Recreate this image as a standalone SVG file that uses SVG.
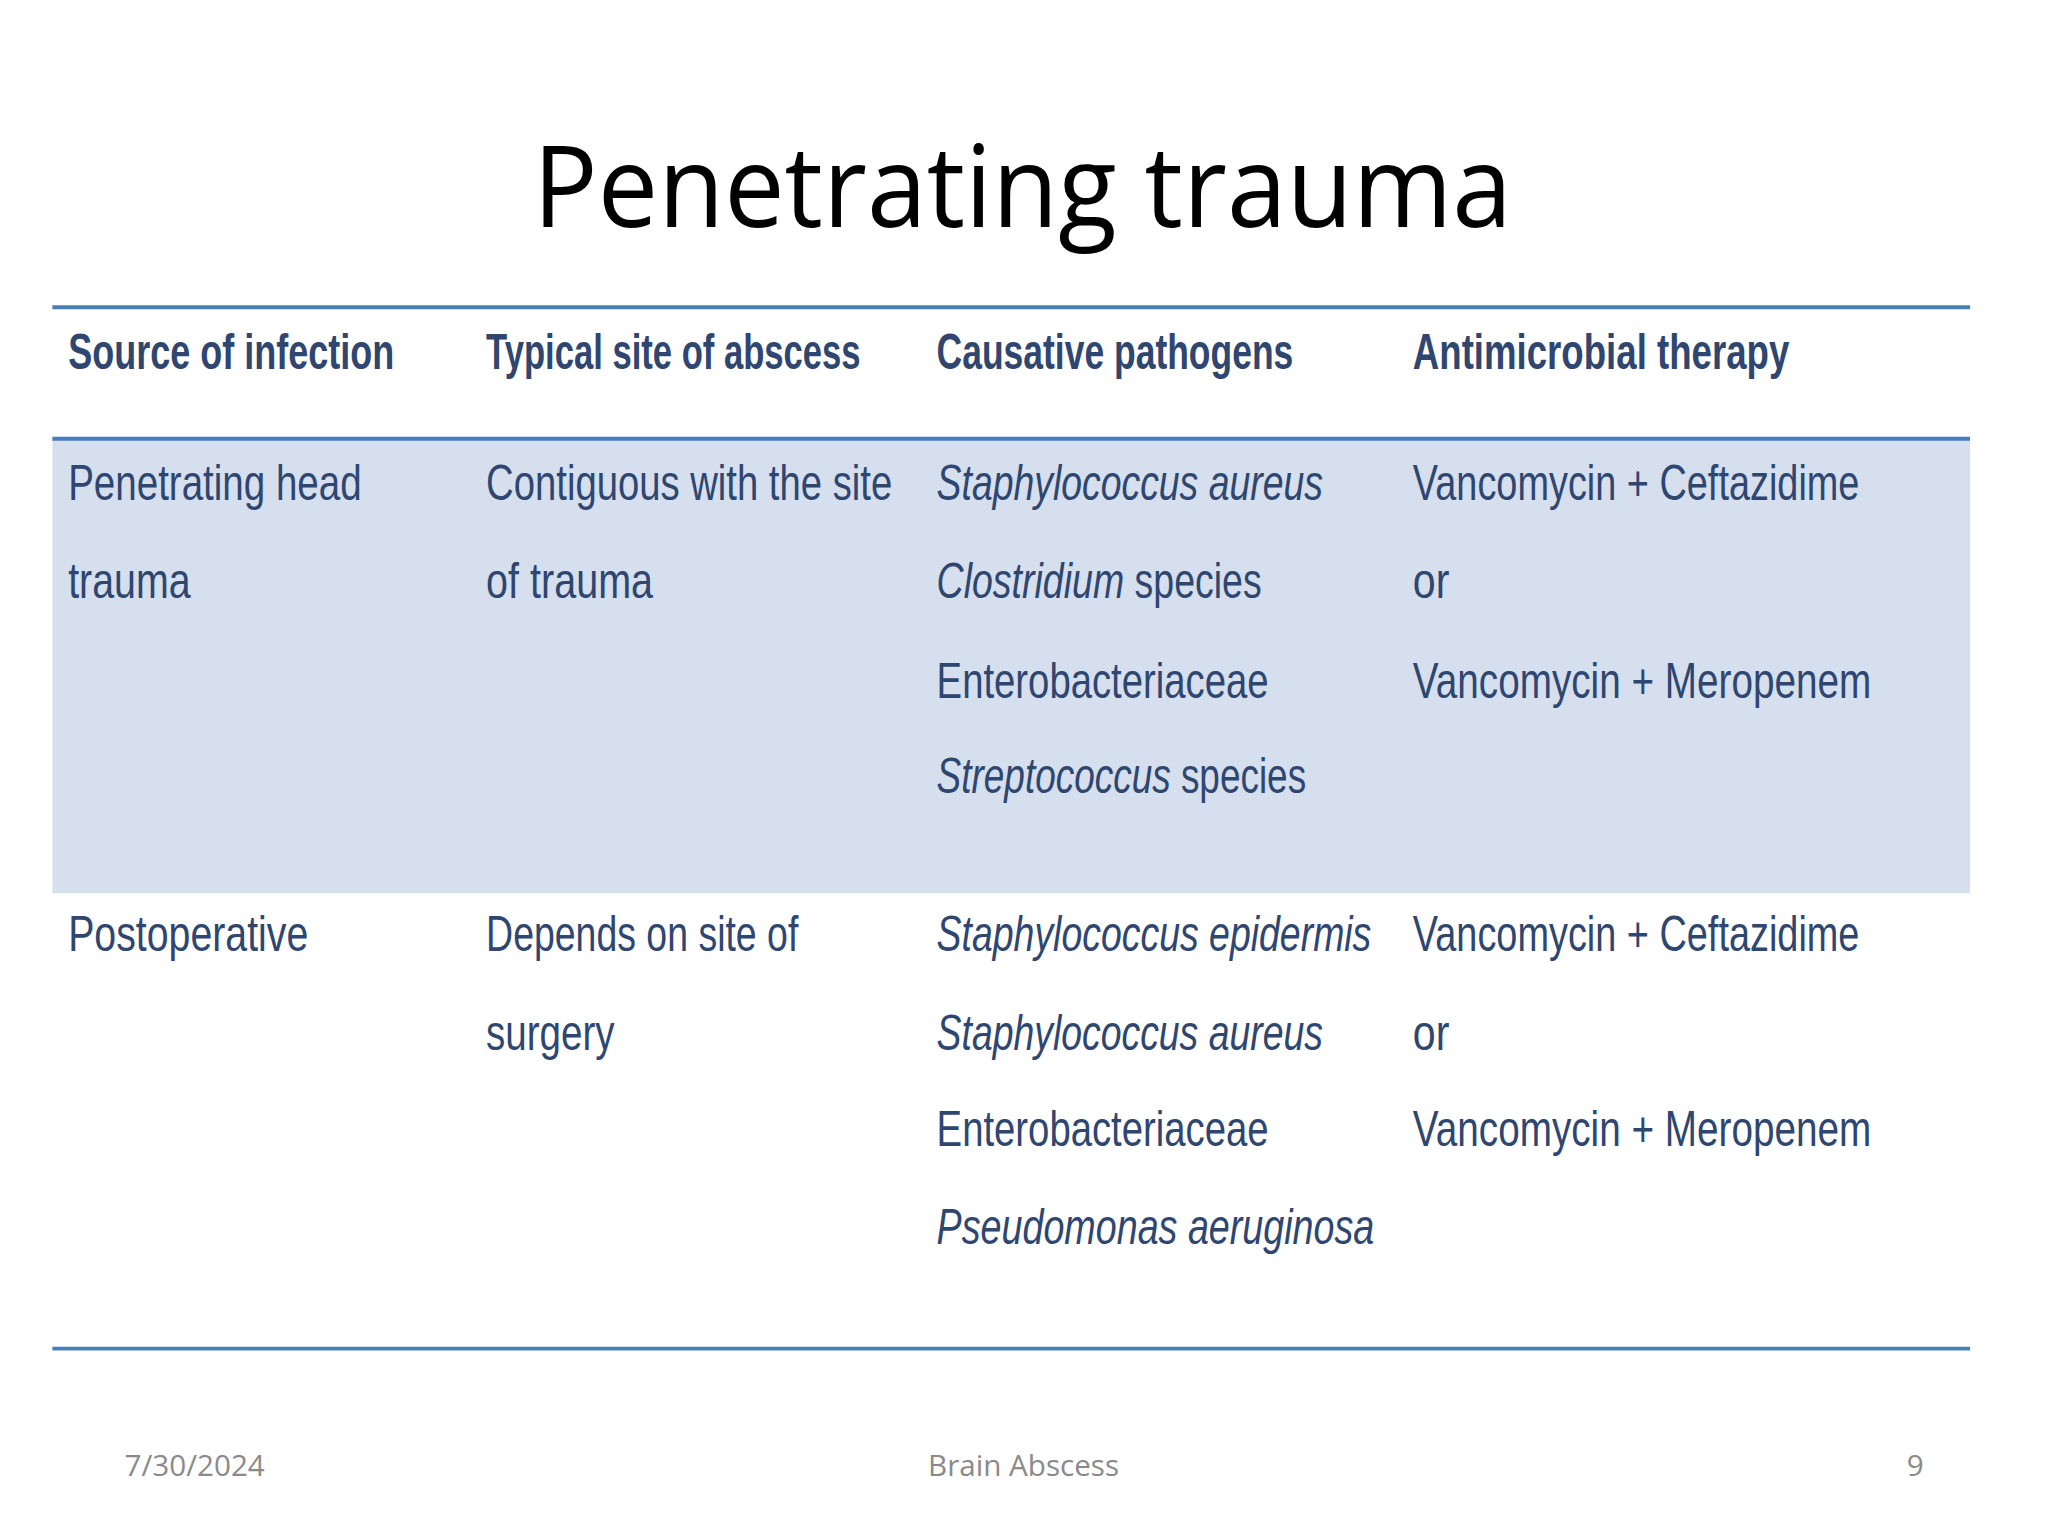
<svg xmlns="http://www.w3.org/2000/svg" width="2048" height="1536" viewBox="0 0 2048 1536">
<style>
.t{font-family:"Open Sans","Liberation Sans",sans-serif;fill:#000}
.c{font-family:"Liberation Sans",sans-serif;font-size:50px;fill:#2f4670}
.h{font-weight:bold}
.i{font-style:italic}
.f{font-family:"Open Sans","Liberation Sans",sans-serif;font-size:30px;fill:#8a8a8a}
.ln{stroke:#4a7ebb;stroke-width:4}
</style>
<rect width="2048" height="1536" fill="#fff"/>
<g transform="scale(0.988)">
<text class="t" x="1035" y="230" font-size="114" text-anchor="middle" textLength="991" lengthAdjust="spacingAndGlyphs">Penetrating trauma</text>
<g id="table">
<rect x="53" y="444" width="1941" height="460" fill="#d6dfee"/>
<line class="ln" x1="53" y1="311" x2="1994" y2="311"/>
<line class="ln" x1="53" y1="444" x2="1994" y2="444"/>
<line class="ln" x1="53" y1="1365" x2="1994" y2="1365"/>
<g id="header" class="c h">
<text x="69" y="373" textLength="330" lengthAdjust="spacingAndGlyphs">Source of infection</text>
<text x="492" y="373" textLength="379" lengthAdjust="spacingAndGlyphs">Typical site of abscess</text>
<text x="948" y="373" textLength="361" lengthAdjust="spacingAndGlyphs">Causative pathogens</text>
<text x="1430" y="373" textLength="381" lengthAdjust="spacingAndGlyphs">Antimicrobial therapy</text>
</g>
<g id="row1" class="c">
<text x="69" y="506" textLength="297" lengthAdjust="spacingAndGlyphs">Penetrating head</text>
<text x="69" y="605" textLength="124" lengthAdjust="spacingAndGlyphs">trauma</text>
<text x="492" y="506" textLength="411" lengthAdjust="spacingAndGlyphs">Contiguous with the site</text>
<text x="492" y="605" textLength="169" lengthAdjust="spacingAndGlyphs">of trauma</text>
<text x="948" y="506" class="i" textLength="391" lengthAdjust="spacingAndGlyphs">Staphylococcus aureus</text>
<text x="948" y="605" textLength="329" lengthAdjust="spacingAndGlyphs"><tspan class="i">Clostridium</tspan> species</text>
<text x="948" y="706" textLength="336" lengthAdjust="spacingAndGlyphs">Enterobacteriaceae</text>
<text x="948" y="803" textLength="374" lengthAdjust="spacingAndGlyphs"><tspan class="i">Streptococcus</tspan> species</text>
<text x="1430" y="506" textLength="452" lengthAdjust="spacingAndGlyphs">Vancomycin + Ceftazidime</text>
<text x="1430" y="605" textLength="37" lengthAdjust="spacingAndGlyphs">or</text>
<text x="1430" y="706" textLength="464" lengthAdjust="spacingAndGlyphs">Vancomycin + Meropenem</text>
</g>
<g id="row2" class="c">
<text x="69" y="963" textLength="243" lengthAdjust="spacingAndGlyphs">Postoperative</text>
<text x="492" y="963" textLength="316" lengthAdjust="spacingAndGlyphs">Depends on site of</text>
<text x="492" y="1063" textLength="130" lengthAdjust="spacingAndGlyphs">surgery</text>
<text x="948" y="963" class="i" textLength="440" lengthAdjust="spacingAndGlyphs">Staphylococcus epidermis</text>
<text x="948" y="1063" class="i" textLength="391" lengthAdjust="spacingAndGlyphs">Staphylococcus aureus</text>
<text x="948" y="1160" textLength="336" lengthAdjust="spacingAndGlyphs">Enterobacteriaceae</text>
<text x="948" y="1259" class="i" textLength="443" lengthAdjust="spacingAndGlyphs">Pseudomonas aeruginosa</text>
<text x="1430" y="963" textLength="452" lengthAdjust="spacingAndGlyphs">Vancomycin + Ceftazidime</text>
<text x="1430" y="1063" textLength="37" lengthAdjust="spacingAndGlyphs">or</text>
<text x="1430" y="1160" textLength="464" lengthAdjust="spacingAndGlyphs">Vancomycin + Meropenem</text>
</g>
</g>
<g id="footer" class="f">
<text x="126" y="1494">7/30/2024</text>
<text x="1036" y="1494" text-anchor="middle">Brain Abscess</text>
<text x="1947" y="1494" text-anchor="end">9</text>
</g>
</g>
</svg>
